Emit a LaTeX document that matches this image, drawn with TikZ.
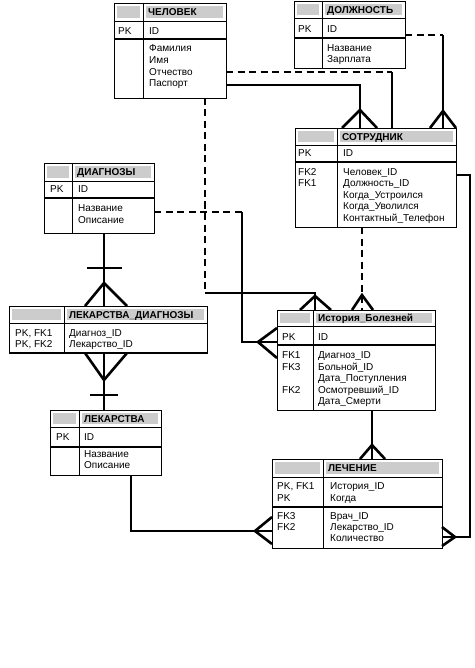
\documentclass[tikz,border=0pt]{standalone}
\usepackage{fontspec}
\setmainfont{Liberation Sans}
\usetikzlibrary{fit}

\tikzset{
  tbl/.style={draw, line width=0.8pt, inner sep=0pt, outer sep=0pt},
  ttl/.style={font=\fontsize{10}{12}\selectfont\bfseries, inner sep=0pt, anchor=base west},
  fld/.style={font=\fontsize{10}{12}\selectfont, inner sep=0pt, anchor=base west},
  rel/.style={line width=2.6pt},
  opt/.style={rel, dash pattern=on 7pt off 4.5pt},
}

% name, x1, y1, x2, y2, key column, header line, key line, title
\newcommand{\ertable}[9]{%
  \fill[black!20] ({#2+3},{#3+3}) rectangle ({#6-3},{#7-3});
  \fill[black!20] ({#6+3},{#3+3}) rectangle ({#4-3},{#7-3});
  \node[tbl, fit={(#2,#3) (#4,#5)}] (#1) {};
  \draw[line width=0.8pt] (#6,#3) -- (#6,#5) (#2,#7) -- (#4,#7);
  \draw[line width=1.3pt] (#2,#8) -- (#4,#8);
  \node[ttl] (#1-t) at ({#6+5},{(#3+#7)/2+3.6}) {#9};
}
% name, x, first baseline, line step, lines
\newcommand{\fields}[5]{%
  \foreach \t [count=\i] in {#5}
    \node[fld] (#1-\i) at (#2,{#3+#4*(\i-1)}) {\t};
}

\begin{document}
\begin{tikzpicture}[x=1pt, y=-1pt]
\useasboundingbox (0,0) rectangle (474,668);

% tables
\ertable{chel}{114}{3}{226}{98}{143}{21}{39}{ЧЕЛОВЕК}
\fields{chel-k}{118}{34.5}{12}{PK}
\fields{chel-a}{149}{34.5}{12}{ID}
\fields{chel-f}{149}{51.5}{11.8}{Фамилия, Имя, Отчество, Паспорт}

\ertable{dolzh}{294}{1}{405}{68}{322}{18}{38}{ДОЛЖНОСТЬ}
\fields{dolzh-k}{298}{32.5}{12}{PK}
\fields{dolzh-a}{327}{32.5}{12}{ID}
\fields{dolzh-f}{327}{51.5}{11.2}{Название, Зарплата}

\ertable{sotr}{295}{128}{456}{227}{337}{145}{162}{СОТРУДНИК}
\fields{sotr-k}{298}{156.5}{12}{PK}
\fields{sotr-a}{343}{156.5}{12}{ID}
\fields{sotr-fk}{298}{175.5}{11.4}{FK2, FK1}
\fields{sotr-f}{343}{175.5}{11.4}{Человек\_ID, Должность\_ID, Когда\_Устроился, Когда\_Уволился, Контактный\_Телефон}

\ertable{diag}{44}{163}{154}{233}{72}{181}{198}{ДИАГНОЗЫ}
\fields{diag-k}{50}{192.5}{12}{PK}
\fields{diag-a}{78}{192.5}{12}{ID}
\fields{diag-f}{78}{211.5}{11.5}{Название, Описание}

\ertable{ld}{9}{306}{207}{353}{64}{323}{353}{ЛЕКАРСТВА\_ДИАГНОЗЫ}
\fields{ld-k}{15}{336.5}{11.2}{{PK, FK1}, {PK, FK2}}
\fields{ld-f}{69}{336.5}{11.2}{Диагноз\_ID, Лекарство\_ID}

\ertable{lek}{50}{410}{161}{475}{79}{427}{447}{ЛЕКАРСТВА}
\fields{lek-k}{56}{440.5}{12}{PK}
\fields{lek-a}{84}{440.5}{12}{ID}
\fields{lek-f}{84}{457.5}{11.2}{Название, Описание}

\ertable{ist}{277}{310}{435}{410}{313}{326}{345}{История\_Болезней}
\fields{ist-k}{282}{340.5}{12}{PK}
\fields{ist-a}{318}{340.5}{12}{ID}
\fields{ist-fk}{282}{358.5}{11.6}{FK1, FK3, {}, FK2}
\fields{ist-f}{318}{358.5}{11.6}{Диагноз\_ID, Больной\_ID, Дата\_Поступления, Осмотревший\_ID, Дата\_Смерти}

\ertable{lech}{272}{459}{442}{548}{323}{477}{507}{ЛЕЧЕНИЕ}
\fields{lech-k}{277}{489.5}{11.8}{{PK, FK1}, PK}
\fields{lech-a}{330}{489.5}{11.8}{История\_ID, Когда}
\fields{lech-fk}{277}{519.5}{11.2}{FK3, FK2}
\fields{lech-f}{330}{519.5}{11.2}{Врач\_ID, Лекарство\_ID, Количество}

% relationships
\draw[rel] (chel.east |- 0,85) -| (sotr.north -| 360,0);
\draw[rel] (sotr.north -| 342,0) -- (360,110) -- (sotr.north -| 377,0);
\draw[opt] (chel.east |- 0,72) -- (392,72);
\draw[rel] (392,72) -- (sotr.north -| 392,0);
\draw[opt] (dolzh.east |- 0,35) -- (443,35);
\draw[rel] (443,35) -- (sotr.north -| 443,0);
\draw[rel] (sotr.north -| 430,0) -- (443,111) -- (sotr.north -| 456,0);

\draw[opt] (chel.south -| 205,0) -- (205,293);
\draw[rel] (205,293) -| (ist.north -| 315,0);
\draw[rel] (ist.north -| 300,0) -- (315,296) -- (ist.north -| 331,0);
\draw[opt] (diag.east |- 0,212) -- (242,212);
\draw[rel] (242,212) |- (ist.west |- 0,342);
\draw[rel] (ist.west |- 0,328) -- (258,342) -- (ist.west |- 0,358);
\draw[opt] (sotr.south -| 362,0) -- (ist.north -| 362,0);
\draw[rel] (ist.north -| 352,0) -- (362,295) -- (ist.north -| 373,0);

\draw[rel] (ist.south -| 372,0) -- (lech.north -| 372,0);
\draw[rel] (lech.north -| 360,0) -- (372,445) -- (lech.north -| 385,0);
\draw[rel] (sotr.east |- 0,175) -| (470,537) -- (lech.east |- 0,537);
\draw[rel] (lech.east |- 0,527) -- (455,537) -- (lech.east |- 0,546);
\draw[rel] (lek.south -| 131,0) |- (lech.west |- 0,531);
\draw[rel] (lech.west |- 0,517) -- (255,531) -- (lech.west |- 0,544);

\draw[rel] (diag.south -| 104,0) -- (ld.north -| 104,0);
\draw[rel] (87,268) -- (122,268);
\draw[rel] (ld.north -| 85,0) -- (104,283) -- (ld.north -| 127,0);
\draw[rel] (lek.north -| 104,0) -- (ld.south -| 104,0);
\draw[rel] (90,395) -- (118,395);
\draw[rel] (ld.south -| 85,0) -- (104,380) -- (ld.south -| 127,0);
\end{tikzpicture}
\end{document}
